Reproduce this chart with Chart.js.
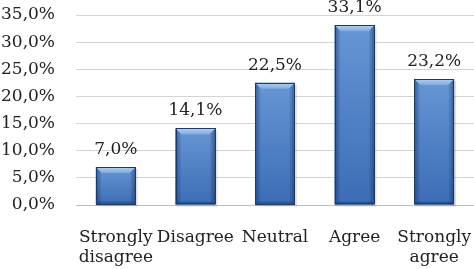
<!DOCTYPE html>
<html>
<head>
<meta charset="utf-8">
<script src="https://cdn.jsdelivr.net/npm/chart.js@4/dist/chart.umd.min.js"></script>
<style>
  html, body { margin: 0; padding: 0; background: #fff; }
  #wrap { width: 474px; height: 269px; position: relative; }
</style>
</head>
<body>
<div id="wrap"><canvas id="chart"></canvas></div>
<script>
const categories = [['Strongly', 'disagree'], 'Disagree', 'Neutral', 'Agree', ['Strongly', 'agree']];
const percentages = [7.0, 14.1, 22.5, 33.1, 23.2];
const yMax = 35;
const yStep = 5;

const FONT = '"DejaVu Serif", serif';

function fmt(v) {
    return v.toFixed(1).replace('.', ',') + '%';
}

// bevelled "3D" look for the bars, drawn over the library's bar elements
const bevelBars = {
    id: 'bevelBars',
    afterDatasetsDraw(chart) {
        const ctx = chart.ctx;
        const meta = chart.getDatasetMeta(0);
        meta.data.forEach((bar, i) => {
            const w = bar.width;
            const l = bar.x - w / 2, r = bar.x + w / 2;
            const t = bar.y, b = bar.base;
            const bev = 6;
            ctx.save();
            // soft shadow
            ctx.fillStyle = 'rgba(0,0,0,0.12)';
            ctx.fillRect(l + 1, t + 2, w + 1, b - t);
            // body
            let g = ctx.createLinearGradient(0, t, 0, b);
            g.addColorStop(0, '#6796d5');
            g.addColorStop(1, '#3c6db5');
            ctx.fillStyle = g;
            ctx.fillRect(l, t, w, b - t);
            // side bevels
            g = ctx.createLinearGradient(l, 0, l + bev, 0);
            g.addColorStop(0, 'rgba(20,45,90,0.55)');
            g.addColorStop(1, 'rgba(20,45,90,0)');
            ctx.fillStyle = g;
            ctx.fillRect(l, t, bev, b - t);
            g = ctx.createLinearGradient(r - bev, 0, r, 0);
            g.addColorStop(0, 'rgba(20,45,90,0)');
            g.addColorStop(1, 'rgba(20,45,90,0.55)');
            ctx.fillStyle = g;
            ctx.fillRect(r - bev, t, bev, b - t);
            // top bevel
            g = ctx.createLinearGradient(0, t, 0, t + bev);
            g.addColorStop(0, '#b4d0f2');
            g.addColorStop(1, '#80a9de');
            ctx.fillStyle = g;
            ctx.beginPath();
            ctx.moveTo(l, t);
            ctx.lineTo(r, t);
            ctx.lineTo(r - bev, t + bev);
            ctx.lineTo(l + bev, t + bev);
            ctx.closePath();
            ctx.fill();
            // bottom bevel
            ctx.fillStyle = 'rgba(20,45,90,0.35)';
            ctx.beginPath();
            ctx.moveTo(l, b);
            ctx.lineTo(r, b);
            ctx.lineTo(r - 3, b - 3);
            ctx.lineTo(l + 3, b - 3);
            ctx.closePath();
            ctx.fill();
            // outline
            ctx.strokeStyle = '#1f3864';
            ctx.lineWidth = 1;
            ctx.strokeRect(Math.round(l) + 0.5, Math.round(t) + 0.5, Math.round(w) - 1, Math.round(b - t) - 1);
            // value label
            ctx.fillStyle = '#222';
            ctx.font = '17px ' + FONT;
            ctx.textAlign = 'center';
            ctx.textBaseline = 'alphabetic';
            ctx.fillText(fmt(percentages[i]), bar.x, t - 13);
            ctx.restore();
        });
    }
};

const ctx = document.getElementById('chart').getContext('2d');
new Chart(ctx, {
    type: 'bar',
    data: {
        labels: categories,
        datasets: [{
            data: percentages,
            backgroundColor: '#4a7cbb',
            borderWidth: 0,
            barPercentage: 0.5,
            categoryPercentage: 1.0
        }]
    },
    options: {
        responsive: true,
        maintainAspectRatio: false,
        animation: false,
        layout: { padding: 0 },
        plugins: {
            legend: { display: false },
            tooltip: { enabled: false }
        },
        scales: {
            x: {
                afterFit(scale) {
                    scale.height = 64;
                    scale.paddingLeft = 0;
                    scale.paddingRight = 0;
                },
                grid: { display: false },
                border: { color: '#bfbfbf' },
                ticks: {
                    color: '#222',
                    font: { family: FONT, size: 17 },
                    padding: 14,
                    maxRotation: 0,
                    autoSkip: false
                }
            },
            y: {
                min: 0,
                max: yMax,
                afterFit(scale) {
                    scale.width = 76;
                    scale.paddingTop = 15;
                    scale.paddingBottom = 0;
                },
                border: { display: false },
                grid: { color: '#d4d4d4', drawTicks: false },
                ticks: {
                    stepSize: yStep,
                    autoSkip: false,
                    color: '#222',
                    padding: 21,
                    font: { family: FONT, size: 17 },
                    callback: v => fmt(v)
                }
            }
        }
    },
    plugins: [bevelBars]
});
</script>
</body>
</html>
